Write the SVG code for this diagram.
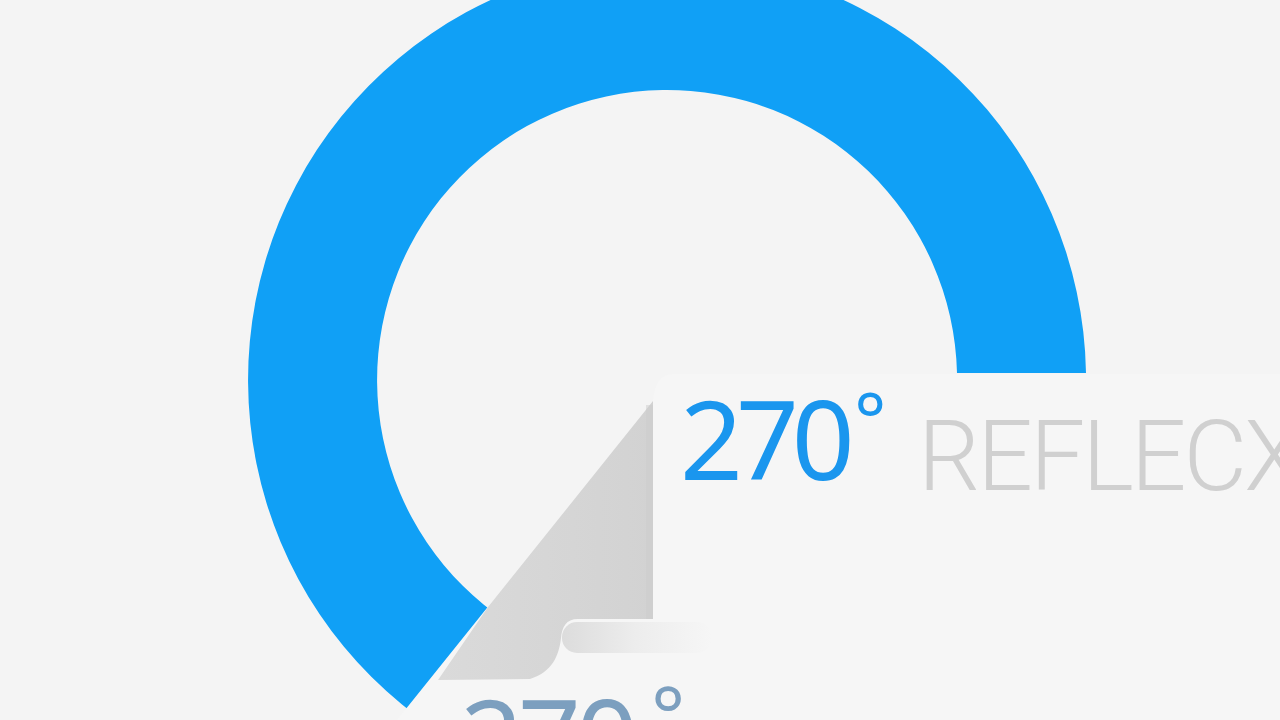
<svg xmlns="http://www.w3.org/2000/svg" width="1280" height="720" viewBox="0 0 1280 720">
  <defs>
    <style>
      .bg { fill: #f4f4f4; }
      .ring { fill: #10a0f6; }
      .page { fill: #f6f6f6; }
      .big { font-family: "Noto Sans", "Open Sans", sans-serif; font-size: 110px; }
      .thin { font-family: Roboto, "Liberation Sans", sans-serif; font-weight: 300; font-size: 98px; fill: #d0d0d0; }
    </style>
    <linearGradient id="curlGrad" x1="0" y1="0" x2="1" y2="0">
      <stop offset="0" stop-color="#dadada"/>
      <stop offset="1" stop-color="#d2d2d2"/>
    </linearGradient>
    <linearGradient id="pillGrad" x1="0" y1="0" x2="1" y2="0">
      <stop offset="0" stop-color="#dcdcdc"/>
      <stop offset="0.5" stop-color="#ededed"/>
      <stop offset="1" stop-color="#f6f6f6"/>
    </linearGradient>
    <linearGradient id="edgeGrad" x1="0" y1="0" x2="1" y2="0">
      <stop offset="0" stop-color="#e2e2e2"/>
      <stop offset="1" stop-color="#f6f6f6" stop-opacity="0"/>
    </linearGradient>
  </defs>

  <rect class="bg" x="0" y="0" width="1280" height="720"/>

  <g id="ring">
    <path class="ring" d="M 1086 373 A 419 419 0 1 0 667 799 L 667 670 A 290 290 0 1 1 957 373 Z"/>
  </g>

  <g id="page">
    <path class="page" d="M 674 374 L 1280 374 L 1280 720 L 397 720 L 653 401 Q 655 374 674 374 Z"/>
    <path d="M 674 375.5 L 957 375.5" stroke="url(#edgeGrad)" stroke-width="2" fill="none"/>
  </g>

  <g id="curl">
    <path fill="url(#curlGrad)" d="M 653 401 L 653 619 L 578 619 C 566 619 562 627 561 638 C 559 656 552 672 530 679 L 438 680 L 488 607 Z"/>
    <rect x="646" y="405" width="7" height="214" fill="#cbcbcb" opacity="0.5"/>
    <rect x="562" y="622" width="150" height="31" rx="15" fill="url(#pillGrad)"/>
  </g>

  <g id="labels">
    <text class="big" x="680" y="480" fill="#1a96ee" letter-spacing="-7">270<tspan x="854" dy="-32" font-size="76">°</tspan></text>
    <text class="thin" x="918" y="490" letter-spacing="-3">REFLECX</text>
    <text class="big" x="460" y="779" fill="#7c9fbf" letter-spacing="-5" font-size="115">270<tspan x="651" dy="-34" font-size="80">°</tspan></text>
  </g>
</svg>
